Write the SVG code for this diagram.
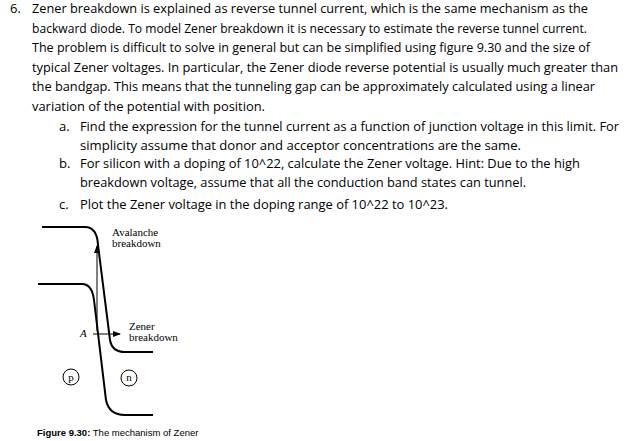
<svg xmlns="http://www.w3.org/2000/svg" width="626" height="441" viewBox="0 0 626 441">
<style>
.t{font-family:"Open Sans","Liberation Sans",sans-serif;font-size:13px;fill:#000}
.s{font-family:"Liberation Serif",serif;font-size:11px;fill:#000}
.c{fill:none;stroke:#000;stroke-width:2}
</style>
<defs><marker id="ah" markerWidth="8" markerHeight="6" refX="7" refY="3" orient="auto"><path d="M0,0L8,3L0,6z" fill="#000"/></marker></defs>
<rect width="626" height="441" fill="#fff"/>
<g id="text">
<text class="t" x="10" y="13">6.</text>
<text class="t" x="32" y="13" textLength="556" lengthAdjust="spacingAndGlyphs">Zener breakdown is explained as reverse tunnel current, which is the same mechanism as the</text>
<text class="t" x="32" y="33" textLength="555" lengthAdjust="spacingAndGlyphs">backward diode. To model Zener breakdown it is necessary to estimate the reverse tunnel current.</text>
<text class="t" x="32" y="52" textLength="558" lengthAdjust="spacingAndGlyphs">The problem is difficult to solve in general but can be simplified using figure 9.30 and the size of</text>
<text class="t" x="32" y="72" textLength="586" lengthAdjust="spacingAndGlyphs">typical Zener voltages. In particular, the Zener diode reverse potential is usually much greater than</text>
<text class="t" x="32" y="91" textLength="563" lengthAdjust="spacingAndGlyphs">the bandgap. This means that the tunneling gap can be approximately calculated using a linear</text>
<text class="t" x="32" y="111" textLength="233" lengthAdjust="spacingAndGlyphs">variation of the potential with position.</text>
<text class="t" x="59" y="131">a.</text>
<text class="t" x="80" y="131" textLength="539" lengthAdjust="spacingAndGlyphs">Find the expression for the tunnel current as a function of junction voltage in this limit. For</text>
<text class="t" x="80" y="150" textLength="441" lengthAdjust="spacingAndGlyphs">simplicity assume that donor and acceptor concentrations are the same.</text>
<text class="t" x="59" y="168">b.</text>
<text class="t" x="80" y="168" textLength="500" lengthAdjust="spacingAndGlyphs">For silicon with a doping of 10^22, calculate the Zener voltage. Hint: Due to the high</text>
<text class="t" x="80" y="187" textLength="446" lengthAdjust="spacingAndGlyphs">breakdown voltage, assume that all the conduction band states can tunnel.</text>
<text class="t" x="59" y="209">c.</text>
<text class="t" x="80" y="209" textLength="368" lengthAdjust="spacingAndGlyphs">Plot the Zener voltage in the doping range of 10^22 to 10^23.</text>
</g>
<g id="bands">
<path class="c" d="M42,227 H85 Q97,227 98,245 L110,340 Q112,352 125,352 H153"/>
<path class="c" d="M38,284 H82 Q92,284 94,300 L106,400 Q109,415 125,415 H153"/>
</g>
<g id="connectors">
<line x1="97" y1="331" x2="97" y2="246" stroke="#000" stroke-width="1" marker-end="url(#ah)"/>
<line x1="93" y1="334" x2="120" y2="334" stroke="#000" stroke-width="1" marker-end="url(#ah)"/>
</g>
<g id="labels">
<text class="s" x="112" y="236">Avalanche</text>
<text class="s" x="112" y="247">breakdown</text>
<text class="s" x="129" y="330">Zener</text>
<text class="s" x="129" y="341">breakdown</text>
<text class="s" x="80" y="337" font-style="italic">A</text>
</g>
<g id="p"><circle cx="71" cy="377" r="8" fill="none" stroke="#000"/><text class="s" x="71" y="381" text-anchor="middle">p</text></g>
<g id="n"><circle cx="129" cy="378" r="8" fill="none" stroke="#000"/><text class="s" x="129" y="381" text-anchor="middle" font-size="9">n</text></g>
<text x="37" y="436" font-family="Liberation Sans,sans-serif" font-size="9.5"><tspan font-weight="bold">Figure 9.30:</tspan> The mechanism of Zener</text>
</svg>
